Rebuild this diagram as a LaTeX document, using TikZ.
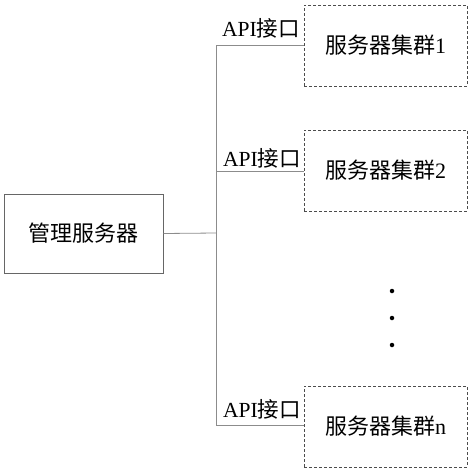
\documentclass[tikz,border=0pt]{standalone}
\usepackage{fontspec}
\setmainfont{Liberation Serif}
\newfontfamily\cjk{Noto Sans CJK SC}
\begin{document}
\begin{tikzpicture}[x=1pt,y=-1pt,
  solidbox/.style={draw=black!60,line width=1pt,minimum width=159pt,minimum height=79pt,inner sep=0pt,font=\fontsize{22}{24}\selectfont},
  dashbox/.style={draw=black!70,line width=1pt,dash pattern=on 3pt off 2pt,minimum width=163pt,minimum height=81pt,inner sep=0pt,font=\fontsize{22}{24}\selectfont},
  conn/.style={draw=black!45,line width=0.8pt},
  apilabel/.style={anchor=base west,inner sep=0pt,font=\fontsize{21.5}{24}\selectfont},
  dotmark/.style={fill=black,circle,inner sep=0pt,minimum size=4.5pt}]
\useasboundingbox (0,0) rectangle (474,474);
\node[solidbox] (m) at (83.5,233.5) {\cjk 管理服务器};
\node[dashbox] (c1) at (385.5,45.5) {{\cjk 服务器集群}1};
\node[dashbox] (c2) at (385.5,170.5) {{\cjk 服务器集群}2};
\node[dashbox] (cn) at (385.5,426.5) {{\cjk 服务器集群}n};
\coordinate (v) at (216,233);
\coordinate (vt) at (216,45);
\coordinate (vb) at (216,425);
\coordinate (b2) at (216,171);
\draw[conn] (m.east) -- (v);
\draw[conn] (vt) -- (vb);
\draw[conn] (vt) -- (vt -| c1.west);
\draw[conn] (b2) -- (b2 -| c2.west);
\draw[conn] (vb) -- (vb -| cn.west);
\node[apilabel] (a1) at (222,36) {API{\cjk 接口}};
\node[apilabel] (a2) at (223,166) {API{\cjk 接口}};
\node[apilabel] (an) at (223,417) {API{\cjk 接口}};
\node[dotmark] (d1) at (392,291) {};
\node[dotmark] (d2) at (392,318) {};
\node[dotmark] (d3) at (392,345) {};
\end{tikzpicture}
\end{document}
